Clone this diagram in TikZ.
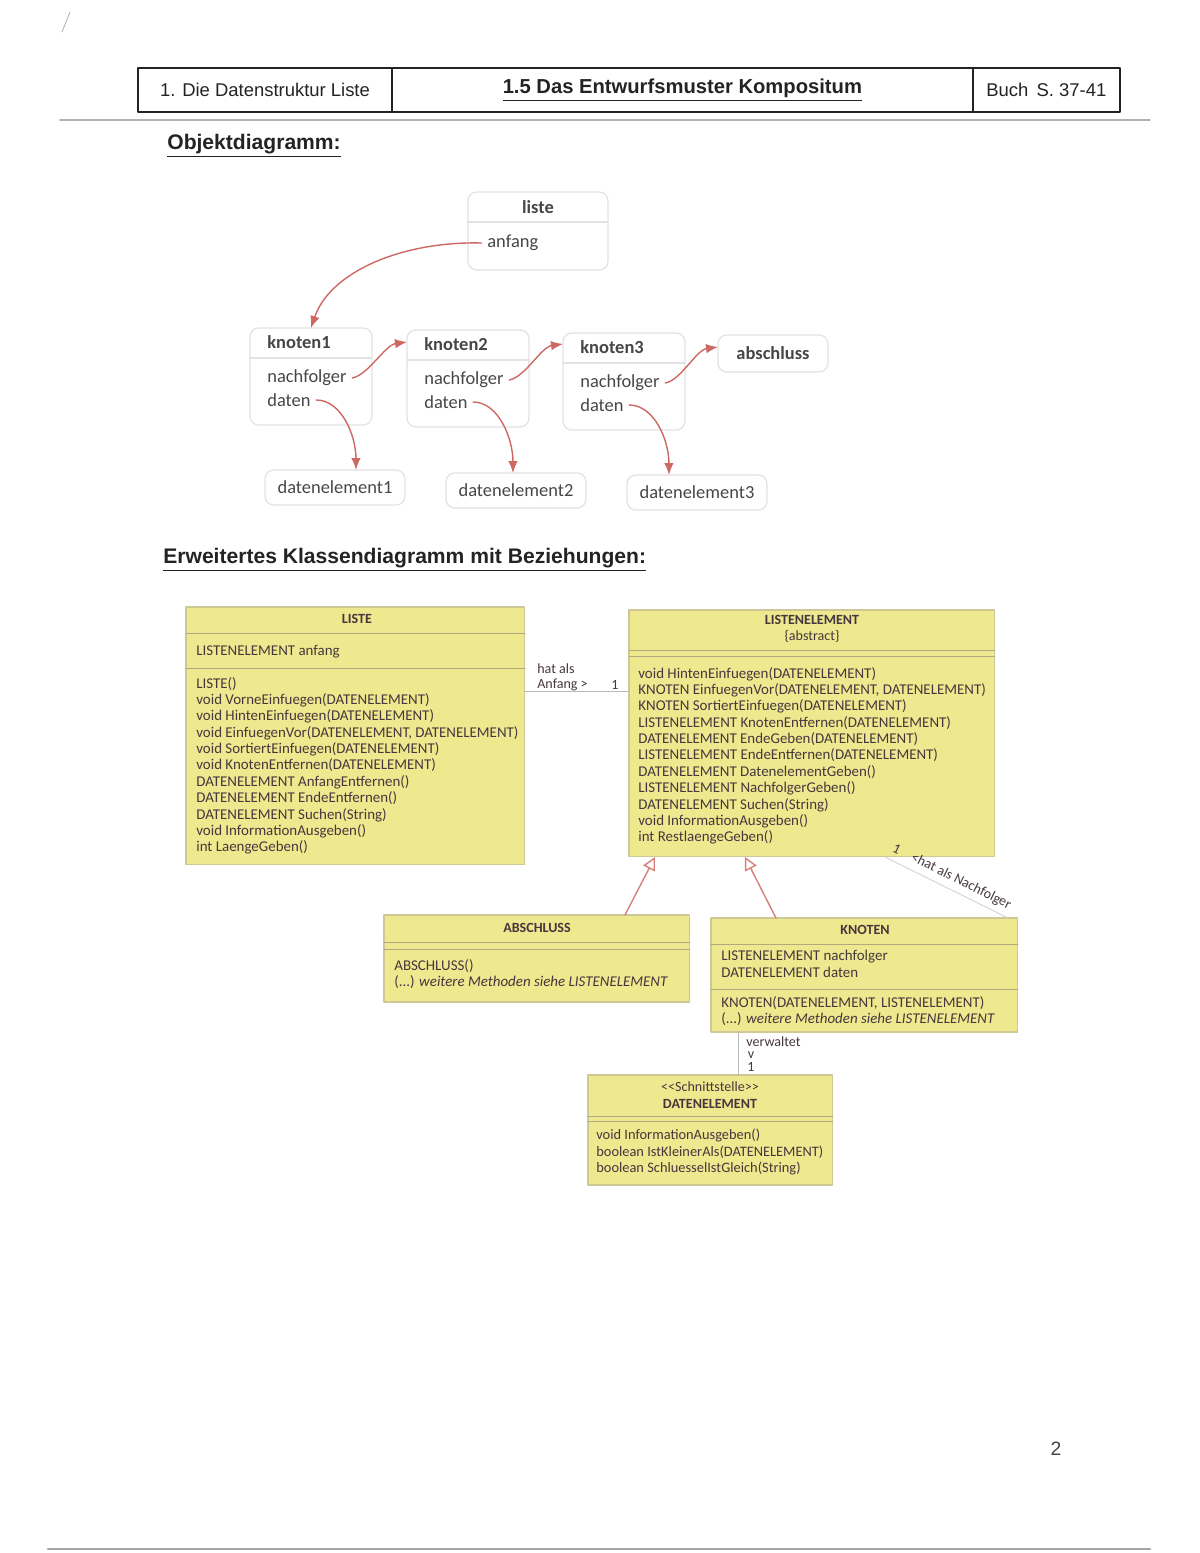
\documentclass[tikz,border=0pt]{standalone}
\usepackage{fontspec}
\setmainfont{Liberation Sans}
\newfontfamily\umlfont{Carlito}
\usetikzlibrary{arrows.meta,positioning}
\definecolor{tinte}{RGB}{35,35,35}
\definecolor{gelb}{RGB}{238,232,142}
\definecolor{gelbrand}{RGB}{205,200,150}
\definecolor{pfeilrot}{RGB}{206,104,98}
\definecolor{erbrot}{RGB}{214,128,120}
\definecolor{umltext}{RGB}{70,55,62}
\definecolor{objrand}{RGB}{226,226,226}
\definecolor{objtext}{RGB}{70,70,70}
\begin{document}
\begin{tikzpicture}[x=0.02cm, y=-0.02cm, line join=round, line cap=round,
	zelle/.style={draw=tinte, line width=1.1pt, minimum height=0.88cm, inner sep=0pt, outer sep=0pt, text=tinte, font=\fontsize{10.5}{12}\selectfont},
	ueber/.style={anchor=west, inner sep=0pt, text=tinte, font=\fontsize{12}{14}\selectfont\bfseries},
	obj/.style={draw=objrand, rounded corners=5pt, line width=0.7pt, anchor=north west, inner sep=0pt, outer sep=0pt, text=objtext, font=\umlfont\fontsize{10.5}{12}\selectfont},
	objtxt/.style={anchor=west, inner sep=0pt, text=objtext, font=\umlfont\fontsize{10.5}{12}\selectfont},
	objtitel/.style={objtxt, font=\umlfont\bfseries\fontsize{10.5}{12}\selectfont},
	zeiger/.style={draw=pfeilrot, line width=0.8pt, -{Latex[length=2.4mm,width=1.9mm]}},
	klasse/.style={draw=gelbrand, fill=gelb, line width=0.6pt, anchor=north west, inner sep=0pt, outer sep=0pt},
	trenn/.style={draw=gelbrand!85!black, line width=0.4pt},
	umltitel/.style={inner sep=0pt, text=umltext, align=center, font=\umlfont\bfseries\fontsize{8}{9.3}\selectfont},
	umltxt/.style={anchor=north west, inner sep=0pt, text=umltext, align=left, font=\umlfont\fontsize{8.5}{9.3}\selectfont},
	umlklein/.style={inner sep=0pt, text=umltext, font=\umlfont\fontsize{8}{9}\selectfont},
	assoz/.style={draw=gray!55, line width=0.5pt},
	erbt/.style={draw=erbrot, line width=0.8pt, -{Triangle[open, length=2.6mm, width=2.6mm]}}]
	\useasboundingbox (0,0) rectangle (1200,1553);
	\draw[gray!70, line width=0.4pt] (70,12) -- (62,32);
	% Kopfzeile
	\node[zelle, minimum width=5.08cm, anchor=north west] (z1) at (138,68) {1. Die Datenstruktur Liste};
	\node[zelle, minimum width=11.62cm, right=0pt of z1, font=\fontsize{11.5}{13}\selectfont\bfseries] (z2) {\underline{1.5 Das Entwurfsmuster Kompositum}};
	\node[zelle, minimum width=2.94cm, right=0pt of z2] (z3) {Buch\, S. 37-41};
	\draw[gray!60, line width=0.9pt] (60,120) -- (1150,120);
	\node[ueber] (objdia) at (167,146) {\underline{Objektdiagramm:}};
	% Objektdiagramm
	\node[obj, minimum width=2.8cm, minimum height=1.56cm] (liste) at (468,192) {};
	\node[objtitel, anchor=center] (listet) at (538,207) {liste};
	\draw[objrand, line width=0.7pt] (468,222) -- (608,222);
	\node[objtxt] (anfang) at (487,243) {anfang};
	\foreach \i/\x/\y in {1/250/328,2/407/330,3/563/333}{
		\node[obj, minimum width=2.44cm, minimum height=1.94cm] (k\i) at (\x,\y) {};
		\draw[objrand, line width=0.7pt] ({\x},{\y+30}) -- ({\x+122},{\y+30});
		\node[objtitel] (kt\i) at ({\x+17},{\y+14}) {knoten\i};
		\node[objtxt] (nf\i) at ({\x+17},{\y+50}) {nachfolger};
		\node[objtxt] (dt\i) at ({\x+17},{\y+72}) {daten};
		\path ([xshift=2.12cm]k\i.south west) coordinate (ziel\i);
	}
	\node[obj, minimum width=2.2cm, minimum height=0.74cm, font=\umlfont\bfseries\fontsize{10.5}{12}\selectfont] (absch) at (718,335) {abschluss};
	\foreach \i/\x/\y in {1/265/470,2/446/473,3/627/475}
		\node[obj, minimum width=2.8cm, minimum height=0.7cm] (de\i) at (\x,\y) {datenelement\i};
	\draw[zeiger] ([xshift=-3pt]anfang.west) .. controls +(-80,-2) and +(19,-56) .. (k1.north);
	\foreach \i/\z in {1/k2,2/k3,3/absch}
		\draw[zeiger] ([xshift=3pt]nf\i.east) .. controls +(16,-3) and +(-22,3) .. (\z.west |- kt\i.west);
	\foreach \i in {1,2,3}
		\draw[zeiger] ([xshift=3pt]dt\i.east) .. controls +(25,0) and +(0,-35) .. (ziel\i |- de\i.north);
	% Klassendiagramm
	\node[ueber] (klassdia) at (163,560) {\underline{Erweitertes Klassendiagramm mit Beziehungen:}};
	\node[klasse, minimum width=6.78cm, minimum height=5.16cm] (LISTE) at (186,607) {};
	\node[umltitel] at (357,619) {LISTE};
	\draw[trenn] (186,633) -- (525,633);
	\node[umltxt] at (196,645) {LISTENELEMENT anfang};
	\draw[trenn] (186,668) -- (525,668);
	\node[umltxt] at (196,677) {LISTE()\\
		void VorneEinfuegen(DATENELEMENT)\\
		void HintenEinfuegen(DATENELEMENT)\\
		void EinfuegenVor(DATENELEMENT, DATENELEMENT)\\
		void SortiertEinfuegen(DATENELEMENT)\\
		void KnotenEntfernen(DATENELEMENT)\\
		DATENELEMENT AnfangEntfernen()\\
		DATENELEMENT EndeEntfernen()\\
		DATENELEMENT Suchen(String)\\
		void InformationAusgeben()\\
		int LaengeGeben()};
	\node[klasse, minimum width=7.32cm, minimum height=4.94cm] (ELEM) at (629,610) {};
	\node[umltitel] at (812,629) {LISTENELEMENT\\ \mdseries\{abstract\}};
	\draw[trenn] (629,650) -- (995,650);
	\draw[trenn] (629,656) -- (995,656);
	\node[umltxt] at (638,667) {void HintenEinfuegen(DATENELEMENT)\\
		KNOTEN EinfuegenVor(DATENELEMENT, DATENELEMENT)\\
		KNOTEN SortiertEinfuegen(DATENELEMENT)\\
		LISTENELEMENT KnotenEntfernen(DATENELEMENT)\\
		DATENELEMENT EndeGeben(DATENELEMENT)\\
		LISTENELEMENT EndeEntfernen(DATENELEMENT)\\
		DATENELEMENT DatenelementGeben()\\
		LISTENELEMENT NachfolgerGeben()\\
		DATENELEMENT Suchen(String)\\
		void InformationAusgeben()\\
		int RestlaengeGeben()};
	\node[klasse, minimum width=6.12cm, minimum height=1.74cm] (ABSCHLUSS) at (384,915) {};
	\node[umltitel] at (537,928) {ABSCHLUSS};
	\draw[trenn] (384,942) -- (690,942);
	\draw[trenn] (384,949) -- (690,949);
	\node[umltxt] at (394,959) {ABSCHLUSS()\\ (...) \textit{weitere Methoden siehe LISTENELEMENT}};
	\node[klasse, minimum width=6.14cm, minimum height=2.28cm] (KNOTEN) at (711,918) {};
	\node[umltitel] at (865,930) {KNOTEN};
	\draw[trenn] (711,944) -- (1018,944);
	\node[umltxt] at (721,950) {LISTENELEMENT nachfolger\\ DATENELEMENT daten};
	\draw[trenn] (711,989) -- (1018,989);
	\node[umltxt] at (721,996) {KNOTEN(DATENELEMENT, LISTENELEMENT)\\ (...) \textit{weitere Methoden siehe LISTENELEMENT}};
	\node[klasse, minimum width=4.9cm, minimum height=2.2cm] (DATEN) at (588,1075) {};
	\node[umltitel] at (710,1095) {\mdseries<<Schnittstelle>>\\ DATENELEMENT};
	\draw[trenn] (588,1116) -- (833,1116);
	\draw[trenn] (588,1121) -- (833,1121);
	\node[umltxt, font=\umlfont\fontsize{8.2}{9.3}\selectfont] at (596,1129) {void InformationAusgeben()\\
		boolean IstKleinerAls(DATENELEMENT)\\
		boolean SchluesselIstGleich(String)};
	% Beziehungen
	\node[umltxt, font=\umlfont\fontsize{8}{9}\selectfont] (hatals) at (537,663) {hat als\\ Anfang >};
	\node[umlklein] (eins1) at (615,685) {1};
	\draw[assoz] (LISTE.east |- hatals.south) -- (ELEM.west |- hatals.south);
	\draw[erbt] ([xshift=-1.3cm]ABSCHLUSS.north east) -- ([xshift=0.52cm]ELEM.south west);
	\draw[erbt] ([xshift=1.3cm]KNOTEN.north west) -- ([xshift=2.32cm]ELEM.south west);
	\draw[assoz, draw=gray!35] ([xshift=-2.2cm]ELEM.south east) -- ([xshift=-0.2cm]KNOTEN.north east)
		node[midway, above=3pt, sloped, umlklein] {1\quad<hat als Nachfolger};
	\coordinate (vw) at ([xshift=0.54cm]KNOTEN.south west);
	\draw[assoz] (vw) -- (vw |- DATEN.north);
	\node[umlklein, anchor=west] (verw) at (746,1042) {verwaltet};
	\node[umlklein] (pfeilv) at (751,1055) {v};
	\node[umlklein] (eins2) at (751,1067) {1};
	% Seitenzahl
	\node[text=tinte!85, font=\fontsize{11}{13}\selectfont] (seite) at (1056,1449) {2};
	\draw[gray!70, line width=1.2pt] (48,1549) -- (1150,1549);
\end{tikzpicture}
\end{document}
